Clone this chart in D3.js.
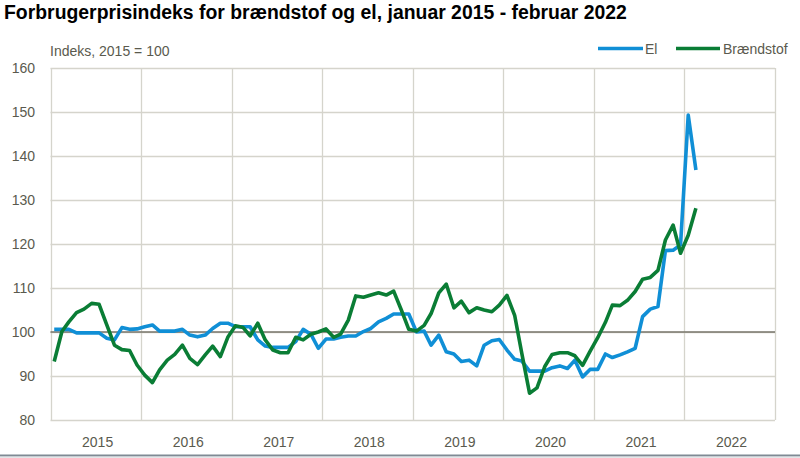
<!DOCTYPE html>
<html>
<head>
<meta charset="utf-8">
<script src="https://cdn.jsdelivr.net/npm/d3@7"></script>
<style>
  body { margin: 0; background: #fff; }
  svg { display: block; font-family: "Liberation Sans", Arial, sans-serif; }
</style>
</head>
<body>
<svg id="chart" width="800" height="458"></svg>
<script>
const title = "Forbrugerprisindeks for brændstof og el, januar 2015 - februar 2022";
const yAxisTitle = "Indeks, 2015 = 100";
const seriesNames = ["El", "Brændstof"];
const years = ["2015", "2016", "2017", "2018", "2019", "2020", "2021", "2022"];
const yTicks = [80, 90, 100, 110, 120, 130, 140, 150, 160];
// months: Jan 2015 .. Feb 2022
const months = d3.timeMonths(new Date(2015, 0, 1), new Date(2022, 2, 1));

const el = [
  100.6, 100.6, 100.6, 99.8, 99.8, 99.8, 99.8, 98.6, 98.2, 101.0, 100.6, 100.7,
  101.2, 101.6, 100.2, 100.2, 100.2, 100.6, 99.3, 98.9, 99.3, 100.8, 102.0, 102.0,
  101.2, 101.2, 101.2, 98.2, 96.8, 96.5, 96.5, 96.5, 97.8, 100.6, 99.5, 96.3,
  98.4, 98.4, 98.8, 99.1, 99.1, 100.1, 100.8, 102.3, 103.1, 104.1, 104.1, 104.1,
  100.0, 100.2, 97.0, 99.3, 95.5, 95.0, 93.3, 93.6, 92.3, 97.0, 98.0, 98.3,
  95.9, 93.8, 93.4, 91.1, 91.1, 91.1, 91.9, 92.3, 91.7, 93.6, 89.8, 91.5,
  91.5, 95.0, 94.2, 94.8, 95.5, 96.3, 103.5, 105.2, 105.8, 118.5, 118.6, 119.8,
  149.3, 136.8
];
const braendstof = [
  93.3, 100.1, 102.3, 104.4, 105.2, 106.5, 106.3, 101.6, 97.0, 96.0, 95.8, 92.5,
  90.2, 88.5, 91.4, 93.6, 94.9, 97.0, 94.0, 92.6, 94.8, 96.8, 94.4, 98.8,
  101.4, 101.0, 99.1, 102.0, 98.2, 95.9, 95.3, 95.3, 98.8, 98.2, 99.5, 100.0,
  100.7, 98.8, 99.5, 102.7, 108.2, 107.9, 108.4, 108.9, 108.4, 109.3, 105.0, 100.6,
  100.2, 101.5, 104.2, 108.9, 110.9, 105.5, 107.0, 104.4, 105.5, 105.0, 104.6, 106.1,
  108.3, 103.8, 95.1, 86.1, 87.3, 92.1, 94.9, 95.3, 95.3, 94.6, 92.4, 95.6,
  98.7, 102.2, 106.1, 106.0, 107.2, 109.2, 112.0, 112.4, 114.0, 120.9, 124.3, 117.9,
  122.0, 128.1
];

const colors = { el: "#108fd6", br: "#0a7d35" };
const gridColor = "#d5d4cc";
const textColor = "#5a5a4e";

const svg = d3.select("#chart");
const pLeft = 50.5, pRight = 775, pTop = 68, pBottom = 420;

const x = d3.scaleTime()
  .domain([new Date(2015, 0, 1), new Date(2023, 0, 1)])
  .range([pLeft, pRight]);
const y = d3.scaleLinear().domain([80, 160]).range([pBottom, pTop]);

// mid-month position
const xm = d => x(new Date(d.getFullYear(), d.getMonth(), 16));

// title
svg.append("text").attr("x", 4).attr("y", 19)
  .attr("font-size", 19.4).attr("font-weight", "bold").attr("fill", "#000")
  .text(title);

// y axis title
svg.append("text").attr("x", 50).attr("y", 56)
  .attr("font-size", 14).attr("fill", textColor).text(yAxisTitle);

// horizontal gridlines
svg.append("g").selectAll("line").data(yTicks).join("line")
  .attr("x1", pLeft).attr("x2", pRight)
  .attr("y1", d => Math.round(y(d)) + 0.5).attr("y2", d => Math.round(y(d)) + 0.5)
  .attr("stroke", gridColor).attr("stroke-width", 1.3);

// vertical gridlines (year boundaries incl. frame)
const yearDates = years.map(s => new Date(+s, 0, 1)).concat([new Date(2023, 0, 1)]);
svg.append("g").selectAll("line").data(yearDates).join("line")
  .attr("x1", d => Math.round(x(d)) + 0.5).attr("x2", d => Math.round(x(d)) + 0.5)
  .attr("y1", pTop).attr("y2", pBottom)
  .attr("stroke", gridColor).attr("stroke-width", 1.3);

// reference line at 100
svg.append("line")
  .attr("x1", pLeft).attr("x2", pRight)
  .attr("y1", y(100)).attr("y2", y(100))
  .attr("stroke", "#77766b").attr("stroke-width", 1.6);

// y tick labels
svg.append("g").selectAll("text").data(yTicks).join("text")
  .attr("x", 35).attr("y", d => y(d)).attr("dy", "0.36em")
  .attr("text-anchor", "end").attr("font-size", 14).attr("fill", textColor)
  .text(d => d);

// x labels
svg.append("g").selectAll("text").data(years).join("text")
  .attr("x", d => x(new Date(+d, 6, 10)))
  .attr("y", 447)
  .attr("text-anchor", "middle").attr("font-size", 14).attr("fill", textColor)
  .text(d => d);

// lines
const line = d3.line().x((d, i) => xm(months[i])).y(d => y(d));
svg.append("path").datum(el).attr("d", line)
  .attr("fill", "none").attr("stroke", colors.el).attr("stroke-width", 3.6)
  .attr("stroke-linejoin", "round");
svg.append("path").datum(braendstof).attr("d", line)
  .attr("fill", "none").attr("stroke", colors.br).attr("stroke-width", 3.6)
  .attr("stroke-linejoin", "round");

// legend
const legend = [
  { name: seriesNames[0], color: colors.el, x1: 598, x2: 643, tx: 645 },
  { name: seriesNames[1], color: colors.br, x1: 676, x2: 720, tx: 723 }
];
const lg = svg.append("g");
legend.forEach(l => {
  lg.append("line").attr("x1", l.x1).attr("x2", l.x2).attr("y1", 48.5).attr("y2", 48.5)
    .attr("stroke", l.color).attr("stroke-width", 3.6);
  lg.append("text").attr("x", l.tx).attr("y", 53.5)
    .attr("font-size", 14).attr("fill", textColor).text(l.name);
});

// bottom rule
svg.append("rect").attr("x", 0).attr("y", 454.5).attr("width", 800).attr("height", 1.5).attr("fill", "#7f8a94");
svg.append("rect").attr("x", 0).attr("y", 456).attr("width", 800).attr("height", 1.5).attr("fill", "#c8cdd2");
</script>
</body>
</html>
